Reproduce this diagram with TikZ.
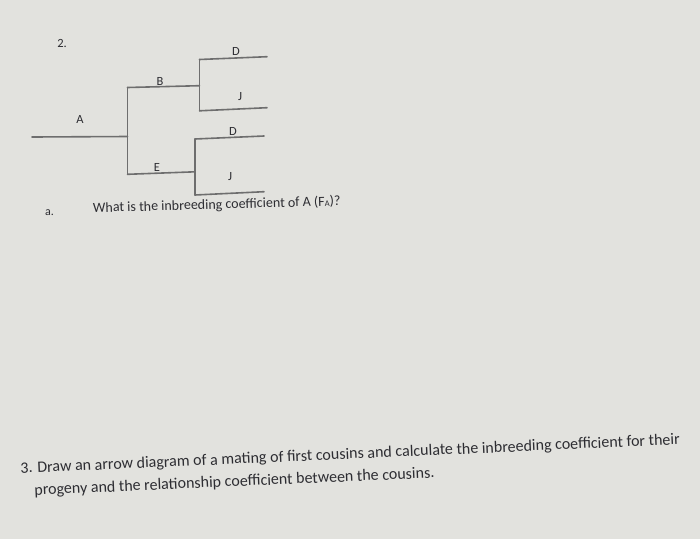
\documentclass[tikz,border=0pt]{standalone}
\usepackage{fontspec}
\setmainfont{Carlito}
\definecolor{paper}{RGB}{226,226,222}
\definecolor{ink}{RGB}{45,45,50}
\definecolor{linegray}{RGB}{110,110,110}
\begin{document}
\begin{tikzpicture}[x=1pt,y=-1pt,
  branch/.style={draw=linegray, line width=1.6pt, line cap=round},
  lbl/.style={text=ink, font=\fontsize{12.5}{14}\selectfont, inner sep=0pt},
  body/.style={text=ink, inner sep=0pt, anchor=base west}]
\fill[paper] (0,0) rectangle (700,539);
\useasboundingbox (0,0) rectangle (700,539);
% junction coordinates
\coordinate (aL) at (32,137);
\coordinate (aR) at (127.5,136.5);
\coordinate (bL) at (127.5,87.5);
\coordinate (eL) at (127.5,174.3);
\coordinate (bR) at (199.5,85.7);
\coordinate (eR) at (195,171.8);
\coordinate (dTL) at (199.5,59.5);
\coordinate (dTR) at (267,56.7);
\coordinate (jTL) at (199.5,110.8);
\coordinate (jTR) at (267,107.7);
\coordinate (dBL) at (195,139);
\coordinate (dBR) at (264,136);
\coordinate (jBL) at (195,195);
\coordinate (jBR) at (264,191.7);
% lines
\draw[branch] (aL) -- (aR);
\draw[branch] (bL) -- (eL);
\draw[branch] (bL) -- (bR);
\draw[branch] (eL) -- (eR);
\draw[branch] (dTL) -- (jTL);
\draw[branch] (dTL) -- (dTR);
\draw[branch] (jTL) -- (jTR);
\draw[branch] (dBL) -- (jBL);
\draw[branch] (dBL) -- (dBR);
\draw[branch] (jBL) -- (jBR);
% labels
\node[lbl] (n2) at (62,43) {2.};
\node[lbl] (lD1) at (236,51) {D};
\node[lbl] (lB) at (160,81) {B};
\node[lbl] (lJ1) at (240,97) {J};
\node[lbl] (lA) at (80,119) {A};
\node[lbl] (lD2) at (233,131) {D};
\node[lbl] (lE) at (157,167) {E};
\node[lbl] (lJ2) at (230,177) {J};
% question a
\node[body, font=\fontsize{12}{13}\selectfont] (qa) at (45,215) {a.};
\node[body, font=\fontsize{14}{16}\selectfont, rotate=1.6] (qtext) at (93,212.5) {What is the inbreeding coefficient of A (F{\fontsize{8.5}{9}\selectfont A})?};
% question 3
\node[text=ink, inner sep=0pt, anchor=north west, align=left, rotate=2.5,
      font=\fontsize{16}{22.5}\selectfont] (q3) at (20,462)
  {3. Draw an arrow diagram of a mating of first cousins and calculate the inbreeding coefficient for their\\
   \hspace*{13pt}progeny and the relationship coefficient between the cousins.};
\end{tikzpicture}
\end{document}
